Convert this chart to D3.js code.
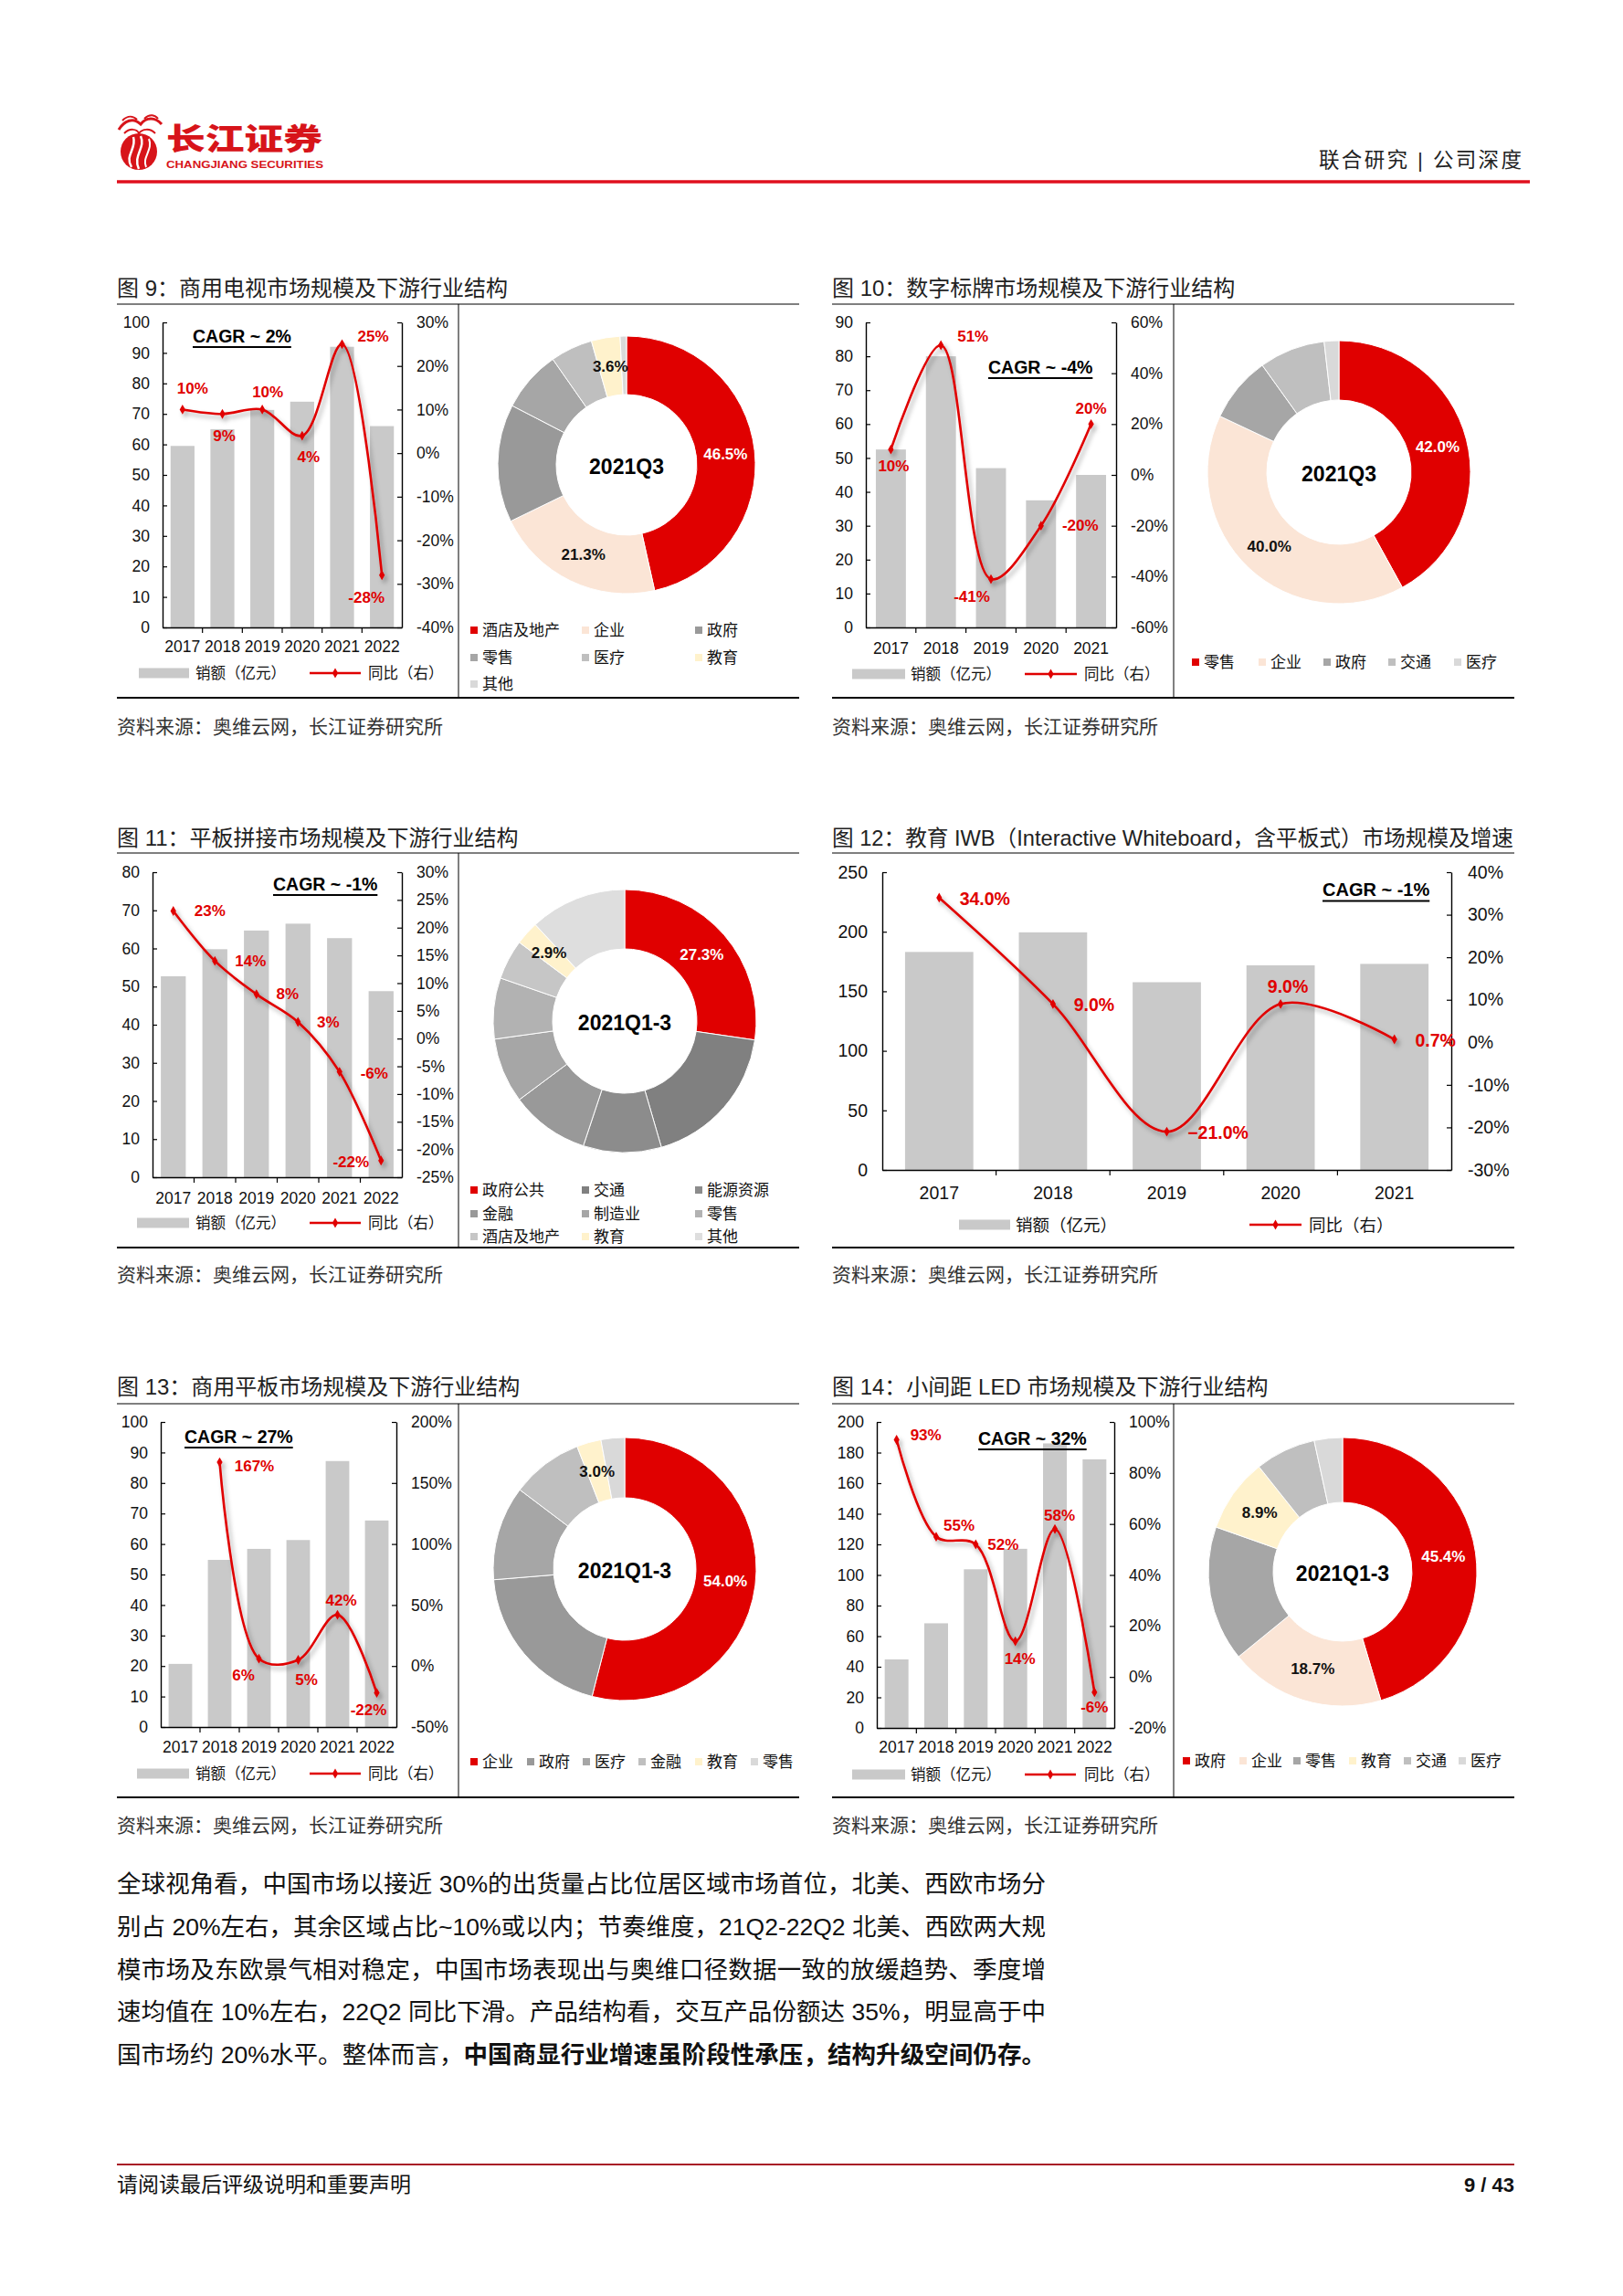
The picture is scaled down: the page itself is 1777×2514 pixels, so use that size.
<!DOCTYPE html>
<html><head><meta charset="utf-8">
<script src="https://cdn.jsdelivr.net/npm/d3@7"></script>
<style>body{margin:0;background:#fff}</style>
</head><body><svg id="page" width="1777" height="2514" style="display:block;background:#fff"></svg>
<script>
// ---------------- DATA ----------------
const years6 = ["2017","2018","2019","2020","2021","2022"];
const years5 = ["2017","2018","2019","2020","2021"];

const fig9Sales = [59.5, 65, 71.3, 74, 92, 66];
const fig9Yoy   = [10, 9, 10, 4, 25, -28];
const fig9PieCats = ["酒店及地产","企业","政府","零售","医疗","教育","其他"];
const fig9PieVals = [46.5, 21.3, 14.8, 7.7, 5.3, 3.6, 0.8];
const fig9PieShown = ["酒店及地产","企业","教育"];

const fig10Sales = [52.5, 80, 47, 37.5, 45];
const fig10Yoy   = [10, 51, -41, -20, 20];
const fig10PieCats = ["零售","企业","政府","交通","医疗"];
const fig10PieVals = [42.0, 40.0, 8.1, 8.1, 1.8];
const fig10PieShown = ["零售","企业"];

const fig11Sales = [52.7, 59.8, 64.7, 66.5, 62.7, 48.8];
const fig11Yoy   = [23, 14, 8, 3, -6, -22];
const fig11PieCats = ["政府公共","交通","能源资源","金融","制造业","零售","酒店及地产","教育","其他"];
const fig11PieVals = [27.3, 18.2, 9.6, 9.7, 8.0, 7.5, 4.9, 2.9, 11.9];
const fig11PieShown = ["政府公共","教育"];

const fig12Sales = [183, 199.5, 157.6, 171.8, 173];
const fig12Yoy   = [34.0, 9.0, -21.0, 9.0, 0.7];

const fig13Sales = [20.7, 54.8, 58.4, 61.3, 87.2, 67.7];
const fig13Yoy   = [null, 167, 6, 5, 42, -22];
const fig13PieCats = ["企业","政府","医疗","金融","教育","零售"];
const fig13PieVals = [54.0, 19.7, 11.6, 8.8, 3.0, 2.9];
const fig13PieShown = ["企业","教育"];

const fig14Sales = [44.8, 68.4, 103.7, 117.1, 186, 175.6];
const fig14Yoy   = [93, 55, 52, 14, 58, -6];
const fig14PieCats = ["政府","企业","零售","教育","交通","医疗"];
const fig14PieVals = [45.4, 18.7, 16.3, 8.9, 7.3, 3.4];
const fig14PieShown = ["政府","企业","教育"];

const paraLines = [
  "全球视角看，中国市场以接近 30%的出货量占比位居区域市场首位，北美、西欧市场分",
  "别占 20%左右，其余区域占比~10%或以内；节奏维度，21Q2-22Q2 北美、西欧两大规",
  "模市场及东欧景气相对稳定，中国市场表现出与奥维口径数据一致的放缓趋势、季度增",
  "速均值在 10%左右，22Q2 同比下滑。产品结构看，交互产品份额达 35%，明显高于中"
];
const paraLastNormal = "国市场约 20%水平。整体而言，";
const paraLastBold = "中国商显行业增速虽阶段性承压，结构升级空间仍存。";

// ---------------- DRAWING ----------------
const FONT = "'Liberation Sans','Noto Sans CJK SC',sans-serif";
const RED = "#e00000";
const BAR = "#c9c9c9";
const svg = d3.select('#page');

const defs = svg.append('defs');
const f = defs.append('filter').attr('id','shadow').attr('x','-20%').attr('y','-20%').attr('width','140%').attr('height','140%');
f.append('feDropShadow').attr('dx',3).attr('dy',4).attr('stdDeviation',2.5).attr('flood-color','#000').attr('flood-opacity',0.3);

function txt(g, x, y, s, o = {}) {
  return g.append('text').attr('x', x).attr('y', y).text(s)
    .attr('font-family', FONT).attr('font-size', o.size || 20)
    .attr('font-weight', o.weight || 'normal').attr('fill', o.fill || '#111')
    .attr('text-anchor', o.anchor || 'start').attr('dominant-baseline', 'central');
}

// Header
const hdr = svg.append('g');
const logo = hdr.append('g');
logo.append('circle').attr('cx',152).attr('cy',166).attr('r',20).attr('fill','#d7141a');
logo.append('path').attr('d','M144,183 C136,170 150,163 146,150').attr('stroke','#fff').attr('stroke-width',2.5).attr('fill','none');
logo.append('path').attr('d','M152,185 C145,170 160,162 154,149').attr('stroke','#fff').attr('stroke-width',2.5).attr('fill','none');
logo.append('path').attr('d','M160,183 C155,172 168,164 163,152').attr('stroke','#fff').attr('stroke-width',2).attr('fill','none');
logo.append('path').attr('d','M130,142 C136,132 146,128 154,136 C160,128 170,128 177,136').attr('stroke','#d7141a').attr('stroke-width',3).attr('fill','none');
logo.append('path').attr('d','M134,132 C140,126 146,127 150,131 M158,130 C164,124 170,126 173,130').attr('stroke','#d7141a').attr('stroke-width',2).attr('fill','none');
logo.append('path').attr('d','M136,146 C142,140 150,141 152,146 C156,141 164,140 170,146').attr('stroke','#d7141a').attr('stroke-width',2).attr('fill','none');
txt(hdr, 182, 152, "长江证券", {size:33, weight:900, fill:'#d7141a'}).attr('textLength',171).attr('lengthAdjust','spacingAndGlyphs');
txt(hdr, 182, 180, "CHANGJIANG SECURITIES", {size:11.5, weight:'bold', fill:'#d7141a'}).attr('textLength',172).attr('lengthAdjust','spacingAndGlyphs');
txt(hdr, 1444, 175, "联合研究 | 公司深度", {size:22.5, fill:'#222'}).attr('textLength',222).attr('lengthAdjust','spacing');
hdr.append('line').attr('x1',128).attr('x2',1675).attr('y1',199).attr('y2',199).attr('stroke','#e0101e').attr('stroke-width',3.5);

// Frames
function frame(x0, x1, title, yTitle, yTop, yBot, yNote, divX, tLen) {
  const g = svg.append('g');
  const t = txt(g, x0, yTitle, title, {size:24, fill:'#222'});
  if (tLen) t.attr('textLength', tLen).attr('lengthAdjust', 'spacingAndGlyphs');
  g.append('line').attr('x1',x0).attr('x2',x1).attr('y1',yTop).attr('y2',yTop).attr('stroke','#000').attr('stroke-width',1.2);
  g.append('line').attr('x1',x0).attr('x2',x1).attr('y1',yBot).attr('y2',yBot).attr('stroke','#000').attr('stroke-width',2);
  if (divX) g.append('line').attr('x1',divX).attr('x2',divX).attr('y1',yTop).attr('y2',yBot).attr('stroke','#000').attr('stroke-width',1);
  txt(g, x0, yNote, "资料来源：奥维云网，长江证券研究所", {size:21, fill:'#333'});
}
frame(128, 875, "图 9：商用电视市场规模及下游行业结构", 315, 333, 764, 795, 502);
frame(911, 1658, "图 10：数字标牌市场规模及下游行业结构", 315, 333, 764, 795, 1285);
frame(128, 875, "图 11：平板拼接市场规模及下游行业结构", 917, 934, 1366, 1395, 502);
frame(911, 1658, "图 12：教育 IWB（Interactive Whiteboard，含平板式）市场规模及增速", 917, 934, 1366, 1395, null, 746);
frame(128, 875, "图 13：商用平板市场规模及下游行业结构", 1518, 1537, 1968, 1998, 502);
frame(911, 1658, "图 14：小间距 LED 市场规模及下游行业结构", 1518, 1537, 1968, 1998, 1285);

function combo(c) {
  const g = svg.append('g');
  const x = d3.scaleBand().domain(c.cats).range([c.left, c.right]).paddingInner(0.4).paddingOuter(0.2);
  const yl = d3.scaleLinear().domain(c.yl).range([c.bottom, c.top]);
  const yr = d3.scaleLinear().domain(c.yr).range([c.bottom, c.top]);
  const bw = x.bandwidth();
  g.append('g').selectAll('rect').data(c.bars).join('rect')
    .attr('x', (d,i) => x(c.cats[i])).attr('y', d => yl(d))
    .attr('width', bw).attr('height', d => c.bottom - yl(d)).attr('fill', BAR);
  const la = g.append('g').attr('transform', `translate(${c.left},0)`)
    .call(d3.axisLeft(yl).tickValues(d3.range(c.yl[0], c.yl[1] + 1e-9, c.ylStep)).tickSizeInner(-5).tickSizeOuter(0).tickPadding(c.padL || 14));
  const ra = g.append('g').attr('transform', `translate(${c.right},0)`)
    .call(d3.axisRight(yr).tickValues(d3.range(c.yr[0], c.yr[1] + 1e-9, c.yrStep)).tickSizeInner(-5).tickSizeOuter(0).tickPadding(c.padR || 16).tickFormat(d => d + '%'));
  const xa = g.append('g').attr('transform', `translate(0,${c.bottom})`)
    .call(d3.axisBottom(x).tickSizeInner(0).tickSizeOuter(0));
  xa.selectAll('text').attr('y', c.xLabelY - c.bottom).attr('dy', '0.35em');
  [la, ra, xa].forEach(a => {
    a.select('path.domain').attr('stroke', '#000').attr('stroke-width', 1.4);
    a.selectAll('.tick line').attr('stroke', '#000').attr('stroke-width', 1.2);
    a.selectAll('text').attr('font-family', FONT).attr('font-size', c.fsTick).attr('fill', '#111');
  });
  const step = x.step();
  g.append('g').selectAll('line').data(d3.range(1, c.cats.length)).join('line')
    .attr('x1', i => c.left + i * step).attr('x2', i => c.left + i * step)
    .attr('y1', c.bottom).attr('y2', c.bottom + 6).attr('stroke', '#000').attr('stroke-width', 1.2);

  const pts = c.line.map((v, i) => ({v, i, x: x(c.cats[i]) + bw / 2, y: v == null ? 0 : yr(v)}));
  const lg = g.append('g').attr('filter', 'url(#shadow)');
  lg.append('path').attr('d', d3.line().defined(d => d.v != null).x(d => d.x).y(d => d.y)
      .curve(d3.curveCatmullRom.alpha(0.5))(pts))
    .attr('fill', 'none').attr('stroke', RED).attr('stroke-width', 2.6);
  lg.selectAll('path.mk').data(pts.filter(d => d.v != null)).join('path').attr('class', 'mk')
    .attr('d', d3.symbol(d3.symbolDiamond, 34)).attr('transform', d => `translate(${d.x},${d.y})`).attr('fill', RED);
  pts.filter(d => d.v != null).forEach(d => {
    const o = c.offsets[d.i];
    txt(g, d.x + o[0], d.y + o[1], (c.fmt ? c.fmt(d.v) : d.v + '%'), {size: c.fsLab, weight: 'bold', fill: RED, anchor: 'middle'});
  });
  // CAGR
  const ct = txt(g, c.cagr[0], c.cagr[1], c.cagrText, {size: c.fsCagr, weight: 'bold', fill: '#000'});
  const w = ct.node().getComputedTextLength();
  g.append('line').attr('x1', c.cagr[0]).attr('x2', c.cagr[0] + w).attr('y1', c.cagr[1] + c.fsCagr * 0.62).attr('y2', c.cagr[1] + c.fsCagr * 0.62)
    .attr('stroke', '#000').attr('stroke-width', 2);
  // legend
  const L = c.legend;
  g.append('rect').attr('x', L.sw[0]).attr('y', c.legendY - 5.5).attr('width', L.sw[1] - L.sw[0]).attr('height', 11).attr('fill', BAR);
  txt(g, L.t1, c.legendY, "销额（亿元）", {size: c.fsLeg, fill: '#111'});
  g.append('line').attr('x1', L.ln[0]).attr('x2', L.ln[1]).attr('y1', c.legendY).attr('y2', c.legendY).attr('stroke', RED).attr('stroke-width', 2.6);
  g.append('path').attr('d', d3.symbol(d3.symbolDiamond, 34)).attr('transform', `translate(${(L.ln[0] + L.ln[1]) / 2},${c.legendY})`).attr('fill', RED);
  txt(g, L.t2, c.legendY, "同比（右）", {size: c.fsLeg, fill: '#111'});
}

function donut(c) {
  const g = svg.append('g');
  const cg = g.append('g').attr('transform', `translate(${c.cx},${c.cy})`);
  const arcs = d3.pie().sort(null).value(d => d)(c.vals);
  const arc = d3.arc().innerRadius(c.ri).outerRadius(c.ro);
  cg.selectAll('path').data(arcs).join('path').attr('d', arc)
    .attr('fill', (d, i) => c.colors[i]).attr('stroke', '#fff').attr('stroke-width', 1);
  arcs.forEach((d, i) => {
    if (c.shown.includes(c.cats[i])) {
      const p = arc.centroid(d);
      txt(cg, p[0], p[1], d3.format('.1f')(c.vals[i]) + '%', {size: 17, weight: 'bold', anchor: 'middle', fill: c.colors[i] === RED ? '#fff' : '#111'});
    }
  });
  txt(cg, 0, 2, c.center, {size: 23, weight: 'bold', anchor: 'middle', fill: '#000'});
  c.cats.forEach((name, i) => {
    const [lx, ly] = c.legendPos(i);
    g.append('rect').attr('x', lx).attr('y', ly - 4).attr('width', 8).attr('height', 8).attr('fill', c.colors[i]);
    txt(g, lx + 13, ly, name, {size: 17, fill: '#111'});
  });
}
const grid3 = (rows) => i => [[515, 637, 761][i % 3], rows[Math.floor(i / 3)]];
const row = (xs, y) => i => [xs[i], y];

// Fig 9
combo({cats: years6, bars: fig9Sales, line: fig9Yoy, left: 178, right: 440, top: 353, bottom: 687,
  yl: [0, 100], ylStep: 10, yr: [-40, 30], yrStep: 10, xLabelY: 708, legendY: 737,
  legend: {sw: [152, 207], t1: 214, ln: [339, 395], t2: 403},
  cagrText: "CAGR ~ 2%", cagr: [211, 368], fsCagr: 19.5, fsTick: 17.5, fsLab: 17, fsLeg: 16.5,
  offsets: [[11, -23], [2, 24], [6, -19], [7, 23], [34, -8], [-17, 25]]});
donut({cx: 686, cy: 509, ro: 141, ri: 77, cats: fig9PieCats, vals: fig9PieVals, shown: fig9PieShown, center: "2021Q3",
  colors: [RED, "#fbe5d6", "#999999", "#a6a6a6", "#bfbfbf", "#fff2cc", "#d9d9d9"],
  legendPos: grid3([690, 720, 749])});

// Fig 10
combo({cats: years5, bars: fig10Sales, line: fig10Yoy, left: 948, right: 1222, top: 353, bottom: 687,
  yl: [0, 90], ylStep: 10, yr: [-60, 60], yrStep: 20, xLabelY: 710, legendY: 738,
  legend: {sw: [933, 991], t1: 997, ln: [1122, 1179], t2: 1187},
  cagrText: "CAGR ~ -4%", cagr: [1082, 402], fsCagr: 19.5, fsTick: 17.5, fsLab: 17, fsLeg: 16.5,
  offsets: [[3, 18], [35, -10], [-21, 19], [43, 0], [0, -17]]});
donut({cx: 1466, cy: 517, ro: 144, ri: 79, cats: fig10PieCats, vals: fig10PieVals, shown: fig10PieShown, center: "2021Q3",
  colors: [RED, "#fbe5d6", "#a6a6a6", "#bfbfbf", "#d9d9d9"],
  legendPos: row([1305, 1378, 1449, 1520, 1592], 725)});

// Fig 11
combo({cats: years6, bars: fig11Sales, line: fig11Yoy, left: 167, right: 440, top: 955, bottom: 1289,
  yl: [0, 80], ylStep: 10, yr: [-25, 30], yrStep: 5, xLabelY: 1312, legendY: 1339,
  legend: {sw: [150, 207], t1: 214, ln: [339, 395], t2: 403},
  cagrText: "CAGR ~ -1%", cagr: [299, 968], fsCagr: 19.5, fsTick: 17.5, fsLab: 17, fsLeg: 16.5,
  offsets: [[40, 0], [39, 0], [34, 0], [33, 1], [38, 2], [-33, 2]]});
donut({cx: 684, cy: 1118, ro: 144, ri: 79, cats: fig11PieCats, vals: fig11PieVals, shown: fig11PieShown, center: "2021Q1-3",
  colors: [RED, "#808080", "#8c8c8c", "#999999", "#a6a6a6", "#b2b2b2", "#c6c6c6", "#fff2cc", "#dedede"],
  legendPos: grid3([1303, 1329, 1354])});

// Fig 12
combo({cats: years5, bars: fig12Sales, line: fig12Yoy, left: 966, right: 1589, top: 955, bottom: 1281,
  yl: [0, 250], ylStep: 50, yr: [-30, 40], yrStep: 10, xLabelY: 1306, legendY: 1341, padL: 16, padR: 18,
  legend: {sw: [1050, 1106], t1: 1112, ln: [1368, 1425], t2: 1433},
  cagrText: "CAGR ~ -1%", cagr: [1448, 974], fsCagr: 20, fsTick: 19.5, fsLab: 19.5, fsLeg: 18.5,
  fmt: v => d3.format('.1f')(v) + '%',
  offsets: [[50, 1], [45, 1], [56, 1], [8, -19], [45, 1]]});

// Fig 13
combo({cats: years6, bars: fig13Sales, line: fig13Yoy, left: 176, right: 434, top: 1557, bottom: 1891,
  yl: [0, 100], ylStep: 10, yr: [-50, 200], yrStep: 50, xLabelY: 1913, legendY: 1942,
  legend: {sw: [150, 207], t1: 214, ln: [339, 395], t2: 403},
  cagrText: "CAGR ~ 27%", cagr: [202, 1573], fsCagr: 19.5, fsTick: 17.5, fsLab: 17, fsLeg: 16.5,
  offsets: [[0, 0], [38, 4], [-17, 18], [9, 22], [4, -16], [-9, 19]]});
donut({cx: 684, cy: 1718, ro: 144, ri: 78, cats: fig13PieCats, vals: fig13PieVals, shown: fig13PieShown, center: "2021Q1-3",
  colors: [RED, "#999999", "#a6a6a6", "#bfbfbf", "#fff2cc", "#d9d9d9"],
  legendPos: row([515, 577, 638, 699, 761, 822], 1929)});

// Fig 14
combo({cats: years6, bars: fig14Sales, line: fig14Yoy, left: 960, right: 1220, top: 1557, bottom: 1892,
  yl: [0, 200], ylStep: 20, yr: [-20, 100], yrStep: 20, xLabelY: 1913, legendY: 1943,
  legend: {sw: [933, 991], t1: 997, ln: [1122, 1178], t2: 1187},
  cagrText: "CAGR ~ 32%", cagr: [1071, 1575], fsCagr: 19.5, fsTick: 17.5, fsLab: 17, fsLeg: 16.5,
  offsets: [[32, -5], [25, -12], [30, 0], [5, 19], [5, -15], [0, 17]]});
donut({cx: 1470, cy: 1721, ro: 147, ri: 76, cats: fig14PieCats, vals: fig14PieVals, shown: fig14PieShown, center: "2021Q1-3",
  colors: [RED, "#fbe5d6", "#a6a6a6", "#fff2cc", "#bfbfbf", "#d9d9d9"],
  legendPos: row([1295, 1357, 1416, 1477, 1537, 1597], 1928)});

// Paragraph
const pg = svg.append('g');
const lineYs = [2063, 2110, 2157, 2203, 2250];
paraLines.forEach((s, i) => {
  txt(pg, 128, lineYs[i], s, {size: 26.5, fill: '#111'}).attr('textLength', 1017).attr('lengthAdjust', 'spacing');
});
const last = txt(pg, 128, lineYs[4], paraLastNormal, {size: 26.5, fill: '#111'});
last.append('tspan').attr('font-weight', 'bold').text(paraLastBold);
last.attr('textLength', 1017).attr('lengthAdjust', 'spacing');

// Footer
svg.append('line').attr('x1', 128).attr('x2', 1658).attr('y1', 2370).attr('y2', 2370).attr('stroke', '#a81c26').attr('stroke-width', 2);
txt(svg, 128, 2392, "请阅读最后评级说明和重要声明", {size: 23, fill: '#111'});
txt(svg, 1658, 2392, "9 / 43", {size: 22, weight: 'bold', anchor: 'end', fill: '#111'});
</script></body></html>
